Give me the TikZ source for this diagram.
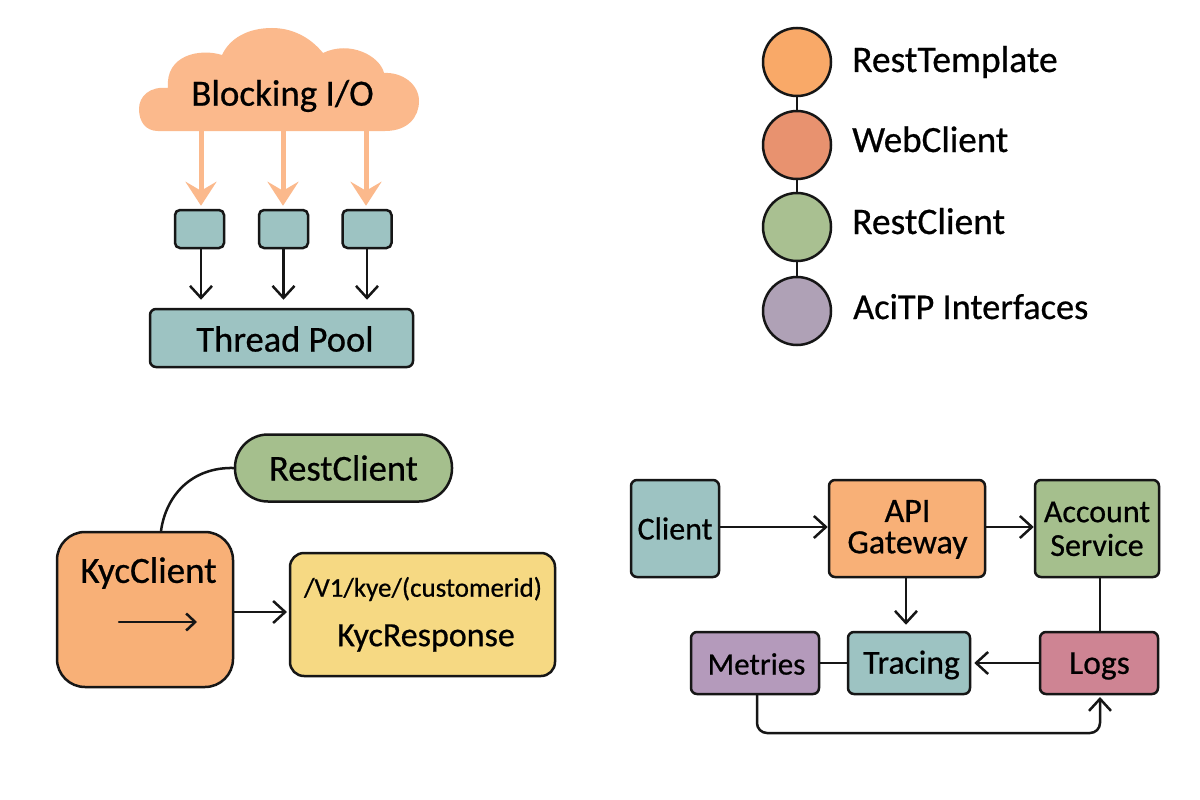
\documentclass[tikz,border=0pt]{standalone}
\usepackage{fontspec}
\setmainfont{Carlito}[FakeBold=0.6]
\usetikzlibrary{arrows.meta,calc}
\definecolor{ink}{HTML}{161616}
\definecolor{cloudc}{HTML}{FBB98C}
\definecolor{teal}{HTML}{9DC3C2}
\definecolor{orangeb}{HTML}{F8B077}
\definecolor{greenb}{HTML}{A5BF8D}
\definecolor{yellowb}{HTML}{F6D983}
\definecolor{purpleb}{HTML}{B49ABB}
\definecolor{pinkb}{HTML}{CE8493}
\definecolor{lorange}{HTML}{F9A968}
\definecolor{lsalmon}{HTML}{E8926F}
\definecolor{lgreen}{HTML}{A9C091}
\definecolor{llilac}{HTML}{AFA1B6}
\tikzset{
  x=1pt,y=-1pt,
  box/.style={draw=ink,line width=2.5pt,rounded corners=6pt,inner sep=0pt,align=center,text=black},
  lbl/.style={inner sep=0pt,text=black,anchor=base west},
  txt/.style={inner sep=0pt,text=black},
  conn/.style={draw=ink,line width=2.5pt,line cap=round},
  arr/.style={conn,-{Straight Barb[length=12pt,width=22pt,line width=2.5pt]}},
  heavy/.style={draw=cloudc,line width=5pt,-{Stealth[length=24pt,width=31pt,inset=9pt]}},
  dot/.style={circle,draw=ink,line width=2.5pt,minimum width=68pt,inner sep=0pt},
}
\newcommand{\fnt}[1]{\fontsize{#1}{#1}\selectfont}
\begin{document}
\begin{tikzpicture}
\useasboundingbox (0,0) rectangle (1200,800);
\fill[white] (0,0) rectangle (1200,800);
% cloud
\fill[cloudc] (158,131) -- (385,131)
  .. controls (408,131) and (419,117) .. (419,101)
  .. controls (419,84) and (402,72) .. (384,73)
  .. controls (380,56) and (350,40) .. (323,53)
  .. controls (310,37) and (292,28) .. (272,28)
  .. controls (248,28) and (230,38) .. (222,55)
  .. controls (200,48) and (165,55) .. (168,88)
  .. controls (150,86) and (139,96) .. (139,109)
  .. controls (139,122) and (146,131) .. (158,131) -- cycle;
\coordinate (c1) at (201,128);
\coordinate (c2) at (283,128);
\coordinate (c3) at (366,128);
\node[txt,font=\fnt{37}] (blocking) at (282.5,96) {Blocking I/O};
% threads
\node[box,fill=teal,minimum width=49pt,minimum height=38pt,rounded corners=5pt] (t1) at (199.5,229) {};
\node[box,fill=teal,minimum width=49pt,minimum height=38pt,rounded corners=5pt] (t2) at (283.5,229) {};
\node[box,fill=teal,minimum width=49pt,minimum height=38pt,rounded corners=5pt] (t3) at (367,229) {};
\node[box,fill=teal,minimum width=263pt,minimum height=58pt] (pool) at (281.5,338) {};
\node[txt,font=\fnt{36.5}] (pooltext) at (285,339) {Thread Pool};
\draw[heavy,shorten >=3pt] (c1) -- (c1 |- t1.north);
\draw[heavy,shorten >=3pt] (c2) -- (c2 |- t2.north);
\draw[heavy,shorten >=3pt] (c3) -- (c3 |- t3.north);
\draw[arr,shorten >=8pt] (t1.south -| c1) -- (c1 |- pool.north);
\draw[arr,shorten >=8pt] (t2.south) -- (t2.south |- pool.north);
\draw[arr,shorten >=8pt] (t3.south) -- (t3.south |- pool.north);
% legend
\node[dot,fill=lorange] (l1) at (797,62) {};
\node[dot,fill=lsalmon] (l2) at (797,145) {};
\node[dot,fill=lgreen] (l3) at (797,227) {};
\node[dot,fill=llilac] (l4) at (797,311) {};
\draw[conn] (l1) -- (l2);
\draw[conn] (l2) -- (l3);
\draw[conn] (l3) -- (l4);
\node[lbl,font=\fnt{37.5}] (n1) at (852,72) {RestTemplate};
\node[lbl,font=\fnt{37}] (n2) at (852,152) {WebClient};
\node[lbl,font=\fnt{37.5}] (n3) at (852,234) {RestClient};
\node[lbl,font=\fnt{36.3}] (n4) at (853,319) {AciTP Interfaces};
% KycClient
\node[box,fill=greenb,minimum width=217pt,minimum height=67pt,rounded corners=33pt,font=\fnt{36.5}] (rest) at (343.5,468) {RestClient};
\node[box,fill=orangeb,minimum width=176pt,minimum height=155pt,rounded corners=28pt] (kyc) at (145,609.5) {};
\node[txt,font=\fnt{37}] (kyctext) at (148.5,573) {KycClient};
\node[box,fill=yellowb,minimum width=265pt,minimum height=123pt,rounded corners=14pt] (resp) at (422.5,614.5) {};
\node[txt,font=\fnt{27}] (path) at (423,589) {/V1/kye/(customerid)};
\node[txt,font=\fnt{34}] (resptext) at (426,638) {KycResponse};
\coordinate (kt) at (161,531);
\coordinate (ia) at (119,622);
\coordinate (ib) at (197,622);
\draw[conn] (kt) .. controls (166,495) and (192,467) .. (rest.west);
\draw[arr,-{Straight Barb[length=9pt,width=17pt,line width=2.5pt]}] (ia) -- (ib);
\draw[arr] (kyc.east |- 0,612) -- (287,612);
% gateway
\node[box,fill=teal,minimum width=88pt,minimum height=97pt,font=\fnt{32}] (client) at (675,528.5) {Client};
\node[box,fill=orangeb,minimum width=156pt,minimum height=97pt] (api) at (907,528.5) {};
\node[txt,font=\fnt{34}] (apitext) at (907.5,511) {API};
\node[txt,font=\fnt{34}] (gwtext) at (907.5,545) {Gateway};
\node[box,fill=greenb,minimum width=124pt,minimum height=97pt] (acc) at (1097,528.5) {};
\node[txt,font=\fnt{32}] (acctext) at (1097,512) {Account};
\node[txt,font=\fnt{32}] (svctext) at (1097,545) {Service};
\node[box,fill=purpleb,minimum width=128pt,minimum height=62pt] (met) at (755,663) {};
\node[txt,font=\fnt{31}] (mettext) at (756.5,664) {Metries};
\node[box,fill=teal,minimum width=122pt,minimum height=62pt] (tr) at (909,663) {};
\node[txt,font=\fnt{33.5}] (trtext) at (911.5,665) {Tracing};
\node[box,fill=pinkb,minimum width=118pt,minimum height=62pt] (logs) at (1099,663) {};
\node[txt,font=\fnt{33.5}] (logstext) at (1099.5,666) {Logs};
\draw[arr] (client.east |- 0,527) -- (api.west |- 0,527);
\draw[arr] (api.east |- 0,527) -- (acc.west |- 0,527);
\draw[arr,shorten >=6pt] (api.south -| 906,0) -- (tr.north -| 906,0);
\draw[conn] (acc.south -| 1100,0) -- (logs.north -| 1100,0);
\draw[arr,shorten >=3pt] (logs.west) -- (tr.east);
\draw[conn] (met.east) -- (tr.west);
\draw[arr,rounded corners=10pt] (met.south -| 757,0) -- (757,733) -- (1100,733) -- (1100,697);
\end{tikzpicture}
\end{document}
